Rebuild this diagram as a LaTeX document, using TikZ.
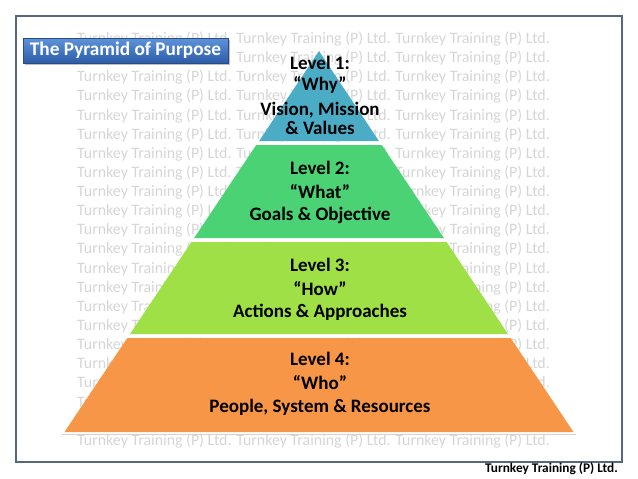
\documentclass[tikz,border=0pt]{standalone}
\usepackage{fontspec}
\setmainfont{Carlito}
\definecolor{frameC}{HTML}{56687C}
\definecolor{wmC}{HTML}{D6D6D6}
\definecolor{lvOne}{HTML}{4BACC6}
\definecolor{lvTwo}{HTML}{4AD274}
\definecolor{lvThree}{HTML}{9EE046}
\definecolor{lvFour}{HTML}{F79646}
\definecolor{titleTop}{HTML}{5E93DA}
\definecolor{titleBot}{HTML}{2C5CA6}
\definecolor{titleEdge}{HTML}{2A4C84}
\tikzset{
  wmtext/.style={anchor=west, inner sep=0pt, text=wmC, font=\fontsize{15.9}{15.9}\selectfont},
  lvtext/.style={inner sep=0pt, text=black, font=\fontsize{19}{19}\selectfont\bfseries},
}
\begin{document}
\begin{tikzpicture}[x=1pt,y=-1pt]
\useasboundingbox (0,0) rectangle (638,479);
\fill[white] (0,0) rectangle (638,479);
% watermark
\foreach \i in {0,...,21}{
  \node[wmtext] (wm\i) at (77,{39+\i*19.14}) {Turnkey Training (P) Ltd. Turnkey Training (P) Ltd. Turnkey Training (P) Ltd.};
}
% pyramid shadow line
\draw[gray!35, line width=1.2pt] (62,434.5) -- (576,434.5);
% pyramid bands
\fill[lvOne] (319,51) -- (378.9,141) -- (259.1,141) -- cycle;
\fill[lvTwo] (256.2,145) -- (381.8,145) -- (443.9,238) -- (194.1,238) -- cycle;
\fill[lvThree] (191.4,242) -- (446.6,242) -- (508,334) -- (130,334) -- cycle;
\fill[lvFour] (127.3,338) -- (510.7,338) -- (573.5,432) -- (64.5,432) -- cycle;
% level texts
\node[lvtext] (l1a) at (320,63) {Level 1:};
\node[lvtext] (l1b) at (320,85) {“Why”};
\node[lvtext] (l1c) at (320,110) {Vision, Mission};
\node[lvtext] (l1d) at (320,128) {\& Values};
\node[lvtext] (l2a) at (320,168) {Level 2:};
\node[lvtext] (l2b) at (320,192) {“What”};
\node[lvtext] (l2c) at (320,215) {Goals \& Objective};
\node[lvtext] (l3a) at (320,265) {Level 3:};
\node[lvtext] (l3b) at (320,289) {“How”};
\node[lvtext] (l3c) at (320,312) {Actions \& Approaches};
\node[lvtext] (l4a) at (320,359) {Level 4:};
\node[lvtext] (l4b) at (320,383) {“Who”};
\node[lvtext] (l4c) at (320,407) {People, System \& Resources};
% title box
\fill[black!25] (24.5,40) rectangle (229.5,65);
\draw[titleEdge, line width=0.6pt, top color=titleTop, bottom color=titleBot] (23,38) rectangle (228,63);
\node[inner sep=0pt, text=white, font=\fontsize{19.3}{19.3}\selectfont\bfseries] (title) at (125.5,50.5) {The Pyramid of Purpose};
% frame
\draw[frameC, line width=1.5pt] (16,16) rectangle (622,462);
% footer
\node[anchor=east, inner sep=0pt, font=\fontsize{13.3}{13.3}\selectfont\bfseries] (foot) at (618,468.5) {Turnkey Training (P) Ltd.};
\end{tikzpicture}
\end{document}
